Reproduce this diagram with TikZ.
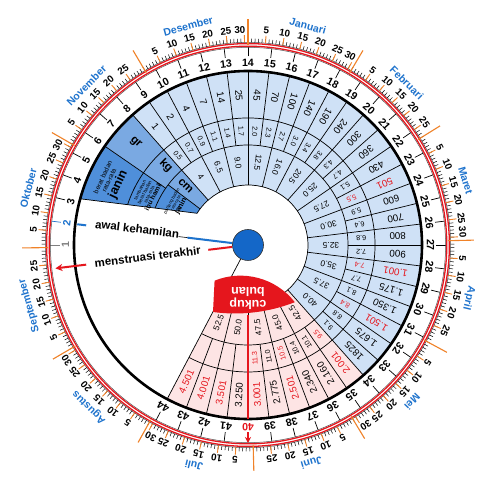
\documentclass[tikz,border=0pt]{standalone}
\usepackage{fontspec}
\setmainfont{Liberation Sans}
\usetikzlibrary{arrows.meta}
\definecolor{cellblue}{HTML}{CFE1F6}
\definecolor{cellpink}{HTML}{FDE4E4}
\definecolor{unitblue}{HTML}{7AA9E2}
\definecolor{descblue}{HTML}{4F8FDA}
\definecolor{monthblue}{HTML}{1E73CD}
\definecolor{tickor}{HTML}{F08228}
\definecolor{wred}{HTML}{E5161D}
\definecolor{hubblue}{HTML}{1467C8}
\newcommand\wang[2]{\pgfmathsetmacro#1{90+(14-(#2))*6.923077}}
\newcommand\dang[2]{\pgfmathsetmacro#1{90-(#2)*0.9863014}}
\newcommand\sectfill[5][]{\fill[#1] (#2:#4) arc[start angle=#2,end angle=#3,radius=#4] -- (#3:#5) arc[start angle=#3,end angle=#2,radius=#5] -- cycle;}
\begin{document}
\begin{tikzpicture}[x=1pt,y=1pt,line join=round,
  gv/.style={inner sep=0pt,font=\fontsize{9.8}{9.8}\selectfont},
  kv/.style={inner sep=0pt,font=\fontsize{7.2}{7.2}\selectfont},
  cv/.style={inner sep=0pt,font=\fontsize{8.4}{8.4}\selectfont},
  wk/.style={inner sep=0pt,font=\bfseries\fontsize{10.6}{10.6}\selectfont},
  dl/.style={inner sep=0pt,font=\bfseries\fontsize{9.8}{9.8}\selectfont},
  mn/.style={inner sep=0pt,text=monthblue,font=\bfseries\fontsize{10.5}{10.5}\selectfont},
  grid/.style={line width=0.7pt},
  hd/.style={inner sep=0pt,align=center,font=\bfseries\fontsize{11.5}{11.5}\selectfont},
  ds/.style={inner sep=0pt,align=center,font=\fontsize{6.6}{6.8}\selectfont}]
\useasboundingbox (-248,-239) rectangle (239,245);
\fill[white] (-248,-239) rectangle (239,245);
\wang\aE{8}\wang\aF{34}\wang\aG{44}\wang\aS{6}
% backgrounds
\sectfill[cellblue]{\aE}{\aF}{60}{174}
\sectfill[cellpink]{\aF}{\aG}{60}{174}
% header cells
\fill[descblue] (164.6:174) arc[start angle=164.6,end angle=\aS,radius=174] -- (\aS:127) arc[start angle=\aS,end angle=161.5,radius=127] -- cycle;
\sectfill[unitblue]{\aS}{\aE}{127}{174}
\fill[descblue] (161.5:127) arc[start angle=161.5,end angle=\aS,radius=127] -- (\aS:100) arc[start angle=\aS,end angle=158.3,radius=100] -- cycle;
\sectfill[unitblue]{\aS}{\aE}{100}{127}
\fill[descblue] (158.3:100) arc[start angle=158.3,end angle=143,radius=100] -- (143:60) arc[start angle=143,end angle=148.1,radius=60] -- cycle;
\sectfill[unitblue]{143}{\aE}{60}{100}
% grid
\draw[grid] (164.6:174) -- (148.1:60);
\draw[grid] (161.5:127) arc[start angle=161.5,end angle=\aG,radius=127];
\draw[grid] (158.3:100) arc[start angle=158.3,end angle=\aG,radius=100];
\draw[grid] (148.1:60) arc[start angle=148.1,end angle=\aG,radius=60];
\draw[grid] (\aS:100) -- (\aS:174);
\draw[grid] (143:60) -- (143:100);
\foreach \w in {8,...,43}{\wang\a{\w}\draw[grid] (\a:100) -- (\a:174);}
\foreach \w in {8,10,...,42}{\wang\a{\w}\draw[grid] (\a:60) -- (\a:100);}
\draw[grid] (\aG:15) -- (\aG:174);
% gram values
\foreach \w/\v/\c in {9/1/black,10/2/black,11/4/black,12/7/black,13/14/black,14/25/black,15/45/black,16/70/black,17/100/black,18/140/black,19/190/black,20/240/black,21/300/black,22/360/black,23/430/black,24/501/wred,25/600/black,26/700/black,27/800/black,28/900/black,29/1.001/wred,30/1.175/black,31/1.350/black,32/1.501/wred,33/1.675/black,34/1825/black,35/2.001/wred,36/2.160/black,37/2.340/black,38/2.501/wred,39/2.775/black,40/3.001/wred,41/3.250/black,42/3.501/wred,43/4.001/wred,44/4.501/wred}
{\wang\a{\w-0.5}\pgfmathsetmacro\r{\a+180}\node[gv,text=\c,rotate=\r] at (\a:150) {\v};}
% kg values
\foreach \w/\v/\c in {9/0.5/black,10/0.7/black,11/0.9/black,12/1.1/black,13/1.4/black,14/1.7/black,15/2.0/black,16/2.3/black,17/2.7/black,18/3.0/black,19/3.4/black,20/3.8/black,21/4.3/black,22/4.7/black,23/5.1/black,24/5.5/wred,25/5.9/black,26/6.4/black,27/6.8/black,28/7.2/black,29/7.4/wred,30/7.7/black,31/8.1/black,32/8.4/wred,33/8.8/black,34/9.1/black,35/9.5/wred,36/10.1/black,37/10.4/black,38/10.5/wred,39/11.0/black,40/11.3/wred}
{\wang\a{\w-0.5}\pgfmathsetmacro\r{\a+180}\node[kv,text=\c,rotate=\r] at (\a:113.5) {\v};}
% cm values
\foreach \w/\v in {9/4,11/6.5,13/9.0,15/12.5,17/16.0,19/20.5,21/25.0,23/27.5,25/30.0,27/32.5,29/35.0,31/37.5,33/40.0,35/42.5,37/45.0,39/47.5,41/50.0,43/52.5}
{\wang\a{\w}\pgfmathsetmacro\r{\a+180}\node[cv,rotate=\r] at (\a:83) {\v};}
% header texts
\node[hd,rotate=317.6] at (137.6:152) {gr};
\node[hd,rotate=316] at (136:114) {kg};
\node[hd,rotate=315] at (136.5:86) {cm};
\node[ds,rotate=65] at (155:150) {berat badan\\rata-rata\\[1pt]{\bfseries\fontsize{12.5}{12.5}\selectfont janin}};
\node[ds,rotate=63,font=\fontsize{4.8}{5.1}\selectfont] at (153:113.5) {tambahan\\berat badan\\rata-rata\\{\bfseries\fontsize{6.8}{6.8}\selectfont ibu hamil}};
\node[ds,rotate=61,font=\fontsize{4.3}{4.6}\selectfont] at (150:82) {panjang badan\\rata-rata\\{\bfseries\fontsize{7.5}{7.5}\selectfont janin}};
% main black circle
\draw[line width=2.6pt] (0,0) circle (174);
% week ring
\foreach \w in {1,...,44}{\wang\a{\w}\pgfmathsetmacro\r{\a-90}
  \ifnum\w=1 \def\col{gray}\else\ifnum\w=2 \def\col{monthblue}\else\ifnum\w=40 \def\col{wred}\else\def\col{black}\fi\fi\fi
  \node[wk,text=\col,rotate=\r] at (\a:182.5) {\w};
  \ifnum\w=40 \else\draw[\col,line width=0.7pt] (\a:188.5) -- (\a:198);\fi}
% red ring
\draw[black!70,line width=0.5pt] (0,0) circle (197.6);
\draw[wred,line width=1.3pt] (0,0) circle (198.8);
\draw[wred,line width=1.3pt] (0,0) circle (201.4);
\draw[black!70,line width=0.5pt] (0,0) circle (202.6);
% day ticks
\foreach \D in {0,...,364}{\dang\a{\D}\draw[line width=0.5pt] (\a:202.6) -- (\a:206.5);}
\foreach \s/\n/\m in {0/31/Januari,31/28/Februari,59/31/Maret,90/30/April,120/31/Mei,151/30/Juni,181/31/Juli,212/31/Agustus,243/30/September,273/31/Oktober,304/30/November,334/31/Desember}{
  \dang\a{\s}\draw[tickor,line width=1.1pt] (\a:200) -- (\a:226);
  \dang\b{\s+\n/2}\pgfmathsetmacro\r{\b-90}\node[mn,rotate=\r] at (\b:227) {\m};
  \foreach \k in {5,10,15,20,25,30}{\ifnum\k<\n
     \dang\c{\s+\k}\draw[tickor,line width=0.9pt] (\c:202.6) -- (\c:210);
     \ifnum\k=30 \dang\c{\s+28.8}\fi
     \pgfmathsetmacro\r{\c-90}\node[dl,rotate=\r] at (\c:215) {\k};\fi}}
% awal kehamilan
\wang\aT{2}
\draw[line width=0.6pt] (\aT:15) -- (\aT:70);
\draw[monthblue,line width=2pt] (\aT:16) -- (\aT:61);
\draw[monthblue,line width=2pt] (\aT:163) -- (\aT:172);
\node[font=\bfseries\fontsize{11.5}{11.5}\selectfont,rotate=\aT-180,inner sep=0pt] at (171.8:112) {awal kehamilan};
% menstruasi terakhir
\wang\aZ{0}
\draw[wred,line width=2pt] (\aZ:16) -- (\aZ:40);
\draw[wred,line width=2pt,-{Stealth[length=7pt,width=7pt]}] (\aZ:163) -- (\aZ:194);
\node[font=\bfseries\fontsize{11.5}{11.5}\selectfont,rotate=\aZ-180,inner sep=0pt] at (186.6:101) {menstruasi terakhir};
% week 40 line
\draw[wred,line width=1.8pt] (-90:70) -- (-90:174);
\draw[wred,line width=1.6pt,-{Stealth[length=6pt,width=6pt]}] (-90:187) -- (-90:198);
% cukup bulan
\fill[wred] (-35,-67) arc[start angle=262.3,end angle=291.4,radius=164] arc[start angle=38,end angle=112,radius=69] -- cycle;
\node[text=white,align=center,font=\bfseries\fontsize{12.5}{13}\selectfont,rotate=180,inner sep=0pt] at (0,-53) {cukup\\bulan};
% hub
\filldraw[fill=hubblue,draw=black!80,line width=0.6pt] (0,0) circle (15.5);
\end{tikzpicture}
\end{document}
